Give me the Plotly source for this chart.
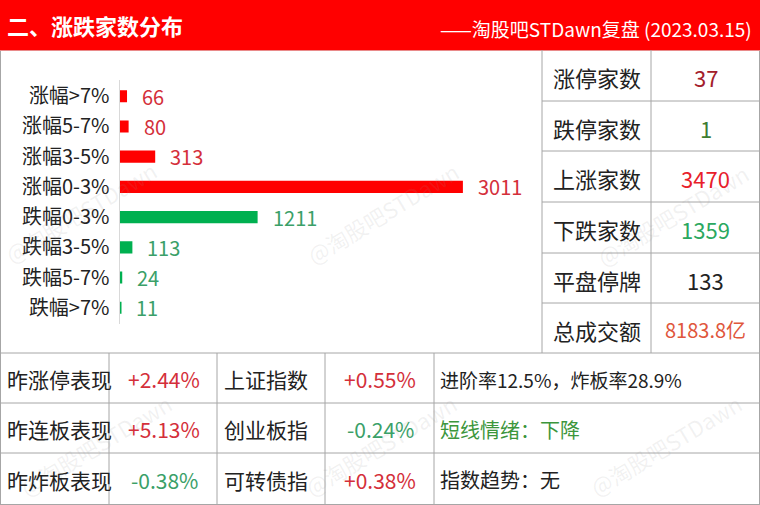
import plotly.graph_objects as go

# ---------------- data ----------------
categories = ["涨幅>7%", "涨幅5-7%", "涨幅3-5%", "涨幅0-3%",
              "跌幅0-3%", "跌幅3-5%", "跌幅5-7%", "跌幅>7%"]
counts = [66, 80, 313, 3011, 1211, 113, 24, 11]

stat_labels = ["涨停家数", "跌停家数", "上涨家数", "下跌家数", "平盘停牌", "总成交额"]
stat_values = ["37", "1", "3470", "1359", "133", "8183.8亿"]

perf_labels = ["昨涨停表现", "昨连板表现", "昨炸板表现"]
perf_values = ["+2.44%", "+5.13%", "-0.38%"]
index_labels = ["上证指数", "创业板指", "可转债指"]
index_values = ["+0.55%", "-0.24%", "+0.38%"]
notes = ["进阶率12.5%，炸板率28.9%", "短线情绪：下降", "指数趋势：无"]

title_text = "二、涨跌家数分布"
subtitle_text = "——淘股吧STDawn复盘 (2023.03.15)"
watermark = "@淘股吧STDawn"

# ---------------- style ----------------
W, H = 760, 505
FONT = "Noto Sans CJK SC, Microsoft YaHei, sans-serif"
RED_BAR, GREEN_BAR = "#FF0000", "#00B050"
RED_TXT, GREEN_TXT = "#D42F3A", "#3AA068"
GRID = "#A6A6A6"
TXT = "#222222"
stat_colors = ["#A3202B", "#3E7D32", "#E8202A", "#2BA860", "#222222", "#E0573C"]
note_colors = ["#222222", "#3C963C", "#222222"]


def px(x):
    return x / W


def py(y):
    return 1 - y / H


def sign_color(v):
    return RED_TXT if v.startswith("+") else GREEN_TXT


bar_colors = [RED_BAR if c.startswith("涨") else GREEN_BAR for c in categories]
lbl_colors = [RED_TXT if c.startswith("涨") else GREEN_TXT for c in categories]

fig = go.Figure()
fig.add_trace(go.Bar(
    x=counts, y=categories, orientation="h",
    marker=dict(color=bar_colors, line=dict(width=0)),
    width=0.4, hoverinfo="skip",
))

annotations = []
# faint watermarks (drawn first so other texts sit above)
for (cx, cy) in [(80, 212), (382, 213), (672, 215), (95, 445), (380, 445), (665, 445)]:
    annotations.append(dict(x=px(cx), y=py(cy), xref="paper", yref="paper",
                            text=watermark, showarrow=False, textangle=-31,
                            xanchor="center", yanchor="middle",
                            font=dict(family=FONT, size=22, color="rgba(150,150,150,0.13)")))

# value labels at bar ends
for c, v, col in zip(categories, counts, lbl_colors):
    annotations.append(dict(
        x=v, y=c, xref="x", yref="y", text=str(v), showarrow=False,
        xanchor="left", yanchor="middle", xshift=13,
        font=dict(family=FONT, size=20, color=col)))

shapes = []


def line(x0, y0, x1, y1, color=GRID, w=1):
    shapes.append(dict(type="line", xref="paper", yref="paper",
                       x0=px(x0), y0=py(y0), x1=px(x1), y1=py(y1),
                       line=dict(color=color, width=w), layer="above"))


# header band
shapes.append(dict(type="rect", xref="paper", yref="paper",
                   x0=0, x1=1, y0=py(50), y1=1,
                   fillcolor="#FF0000", line=dict(width=0), layer="below"))
annotations.append(dict(x=px(5), y=py(25), xref="paper", yref="paper",
                        text="<b>" + title_text + "</b>", showarrow=False,
                        xanchor="left", yanchor="middle",
                        font=dict(family=FONT, size=22, color="white")))
annotations.append(dict(x=px(754), y=py(28), xref="paper", yref="paper",
                        text=subtitle_text, showarrow=False,
                        xanchor="right", yanchor="middle",
                        font=dict(family=FONT, size=19, color="white")))

# outer borders
line(0.5, 50, 0.5, 505)
line(759.5, 50, 759.5, 505)
line(0, 504.5, 760, 504.5)
line(0, 50.5, 760, 50.5, color="#E98A8A")

# right statistics table
rows_y = [50, 101, 151, 202, 253, 303, 353]
line(542, 50, 542, 353)
line(651, 50, 651, 353)
for yy in rows_y[1:-1]:
    line(542, yy, 760, yy)
line(0, 353, 760, 353)
for i, (lab, val, col) in enumerate(zip(stat_labels, stat_values, stat_colors)):
    yc = (rows_y[i] + rows_y[i + 1]) / 2 + 1.5
    annotations.append(dict(x=px(597), y=py(yc), xref="paper", yref="paper",
                            text=lab, showarrow=False, xanchor="center", yanchor="middle",
                            font=dict(family=FONT, size=22, color=TXT)))
    annotations.append(dict(x=px(705.5), y=py(yc), xref="paper", yref="paper",
                            text=val, showarrow=False, xanchor="center", yanchor="middle",
                            font=dict(family=FONT, size=22 if not val.endswith("亿") else 20,
                                      color=col)))

# bottom table
brows = [353, 403, 453, 504]
for yy in brows[1:-1]:
    line(0, yy, 760, yy)
for xx in [109, 217, 325, 434]:
    line(xx, 353, xx, 505)
for i in range(3):
    yc = (brows[i] + brows[i + 1]) / 2 + 1
    annotations.append(dict(x=px(5), y=py(yc), xref="paper", yref="paper",
                            text=perf_labels[i], showarrow=False, xanchor="left", yanchor="middle",
                            font=dict(family=FONT, size=21, color=TXT)))
    annotations.append(dict(x=px(164), y=py(yc), xref="paper", yref="paper",
                            text=perf_values[i], showarrow=False, xanchor="center", yanchor="middle",
                            font=dict(family=FONT, size=21, color=sign_color(perf_values[i]))))
    annotations.append(dict(x=px(222), y=py(yc), xref="paper", yref="paper",
                            text=index_labels[i], showarrow=False, xanchor="left", yanchor="middle",
                            font=dict(family=FONT, size=21, color=TXT)))
    annotations.append(dict(x=px(380), y=py(yc), xref="paper", yref="paper",
                            text=index_values[i], showarrow=False, xanchor="center", yanchor="middle",
                            font=dict(family=FONT, size=21, color=sign_color(index_values[i]))))
    annotations.append(dict(x=px(438), y=py(yc), xref="paper", yref="paper",
                            text=notes[i], showarrow=False, xanchor="left", yanchor="middle",
                            font=dict(family=FONT, size=19 if i == 0 else 20, color=note_colors[i])))

fig.update_layout(
    width=W, height=H, margin=dict(l=0, r=0, t=0, b=0),
    paper_bgcolor="white", plot_bgcolor="white",
    showlegend=False, bargap=0.6,
    xaxis=dict(domain=[px(119.5), px(540)], range=[0, 3687],
               showgrid=False, zeroline=False, showticklabels=False, showline=False),
    yaxis=dict(domain=[py(324.3), py(79.7)], autorange="reversed",
               showgrid=False, zeroline=False, showline=True, linecolor="#D9D9D9",
               linewidth=1, ticks="", ticklabelstandoff=5,
               tickfont=dict(family=FONT, size=20, color=TXT)),
    shapes=shapes, annotations=annotations,
)

fig.write_html("out.html", config={"displayModeBar": False},
               post_script="document.body.style.margin='0';document.body.style.padding='0';")
